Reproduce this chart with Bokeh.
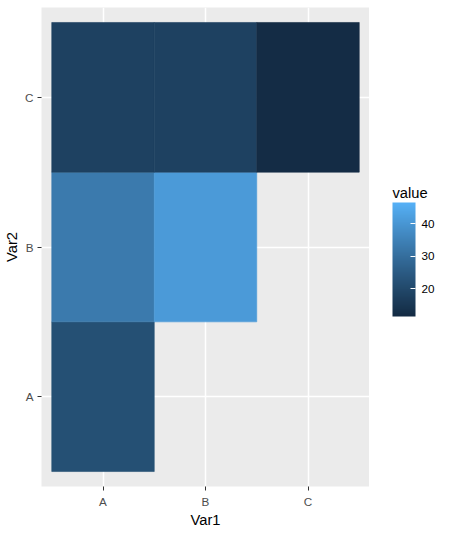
import numpy as np
from bokeh.plotting import figure
from bokeh.layouts import row
from bokeh.models import (ColumnDataSource, LinearColorMapper, ColorBar, FixedTicker, Range1d)
from bokeh.core.properties import value as pvalue
from bokeh.transform import transform
from bokeh.embed import file_html
from bokeh.resources import INLINE

# ---- data ----
categories = ["A", "B", "C"]
var1 = ["A", "A", "B", "A", "B", "C"]
var2 = ["A", "B", "B", "C", "C", "C"]
values = [22, 33, 41, 18, 18, 12]
legend_ticks = [20, 30, 40]
legend_title = "value"
value_low, value_high = 11.5, 46.5

# ---- ggplot-like gradient palette (Lab interpolation #132B43 -> #56B1F7) ----
def hex2rgb(h):
    h = h.lstrip("#")
    return np.array([int(h[i:i + 2], 16) for i in (0, 2, 4)]) / 255.0

def srgb2lin(c):
    return np.where(c <= 0.04045, c / 12.92, ((c + 0.055) / 1.055) ** 2.4)

def lin2srgb(c):
    c = np.clip(c, 0, 1)
    return np.where(c <= 0.0031308, 12.92 * c, 1.055 * c ** (1 / 2.4) - 0.055)

M = np.array([[0.4124, 0.3576, 0.1805], [0.2126, 0.7152, 0.0722], [0.0193, 0.1192, 0.9505]])
Minv = np.linalg.inv(M)
WP = np.array([0.95047, 1.0, 1.08883])

def f(t):
    d = 6 / 29
    return np.where(t > d ** 3, np.cbrt(t), t / (3 * d * d) + 4 / 29)

def finv(t):
    d = 6 / 29
    return np.where(t > d, t ** 3, 3 * d * d * (t - 4 / 29))

def rgb2lab(rgb):
    xyz = M @ srgb2lin(rgb) / WP
    fx, fy, fz = f(xyz)
    return np.array([116 * fy - 16, 500 * (fx - fy), 200 * (fy - fz)])

def lab2hex(lab):
    L, a, b = lab
    fy = (L + 16) / 116
    fx = fy + a / 500
    fz = fy - b / 200
    xyz = np.array([finv(fx), finv(fy), finv(fz)]) * WP
    rgb = lin2srgb(Minv @ xyz)
    r, g, bb = (np.round(rgb * 255)).astype(int)
    return "#%02x%02x%02x" % (r, g, bb)

lab_lo = rgb2lab(hex2rgb("#132B43"))
lab_hi = rgb2lab(hex2rgb("#56B1F7"))
palette = [lab2hex(lab_lo + (lab_hi - lab_lo) * t) for t in np.linspace(0, 1, 256)]

idx = {c: i + 1 for i, c in enumerate(categories)}
source = ColumnDataSource(dict(x=[idx[v] for v in var1], y=[idx[v] for v in var2], value=values))
mapper = LinearColorMapper(palette=palette, low=value_low, high=value_high)

FONT = "Liberation Sans"

p = figure(frame_width=328, frame_height=479, output_backend="svg", toolbar_location=None,
           x_range=Range1d(0.4, 3.6), y_range=Range1d(0.4, 3.6),
           min_border_left=41, min_border_top=7, min_border_bottom=47, min_border_right=0,
           x_axis_label="Var1", y_axis_label="Var2")
p.background_fill_color = "#EBEBEB"
p.border_fill_color = "white"
p.outline_line_color = None

p.rect(x="x", y="y", width=1, height=1, source=source,
       fill_color=transform("value", mapper), line_color=transform("value", mapper),
       line_width=0.6)

for ax in (p.xaxis[0], p.yaxis[0]):
    ax.ticker = FixedTicker(ticks=[1, 2, 3])
    ax.major_label_overrides = {1: "A", 2: "B", 3: "C"}
    ax.axis_line_color = None
    ax.major_tick_line_color = "#333333"
    ax.major_tick_in = 0
    ax.major_tick_out = 4
    ax.minor_tick_line_color = None
    ax.major_label_text_font = FONT
    ax.major_label_text_font_size = "11.7px"
    ax.major_label_text_color = "#4D4D4D"
    ax.major_label_standoff = 4
    ax.axis_label_text_font = FONT
    ax.axis_label_text_font_size = "14.7px"
    ax.axis_label_text_font_style = "normal"
    ax.axis_label_text_color = "black"
p.xaxis[0].axis_label_standoff = 1
p.yaxis[0].axis_label_standoff = 2
p.yaxis[0].major_label_orientation = "horizontal"

p.xgrid.ticker = FixedTicker(ticks=[1, 2, 3])
p.ygrid.ticker = FixedTicker(ticks=[1, 2, 3])
p.grid.grid_line_color = "white"
p.grid.grid_line_width = 1.5
p.grid.level = "underlay"

# ---- legend panel (frame aligned with the main plot's frame: rows 7..486) ----
L = figure(width=81, frame_height=479, output_backend="svg", toolbar_location=None,
           x_range=Range1d(0, 81), y_range=Range1d(486, 7),
           min_border_left=0, min_border_right=0, min_border_top=7, min_border_bottom=47)
L.outline_line_color = None
L.axis.visible = False
L.grid.visible = False
L.background_fill_color = "white"
L.border_fill_color = "white"
L.text(x=[23], y=[192], text=[legend_title], text_font=pvalue(FONT), text_font_size="14.7px",
       text_color="black", text_baseline="alphabetic", text_align="left")

cb = ColorBar(color_mapper=mapper, ticker=FixedTicker(ticks=legend_ticks),
              width=23, height=114, location=(23, 170), padding=0,
              orientation="vertical",
              major_label_text_font=FONT, major_label_text_font_size="11.7px",
              major_label_text_color="black", label_standoff=6,
              major_tick_line_color="white", major_tick_in=5, major_tick_out=0,
              bar_line_color=None, border_line_color=None, background_fill_color=None)
L.add_layout(cb, "center")

open("out.html", "w").write(file_html(row(p, L), INLINE))
